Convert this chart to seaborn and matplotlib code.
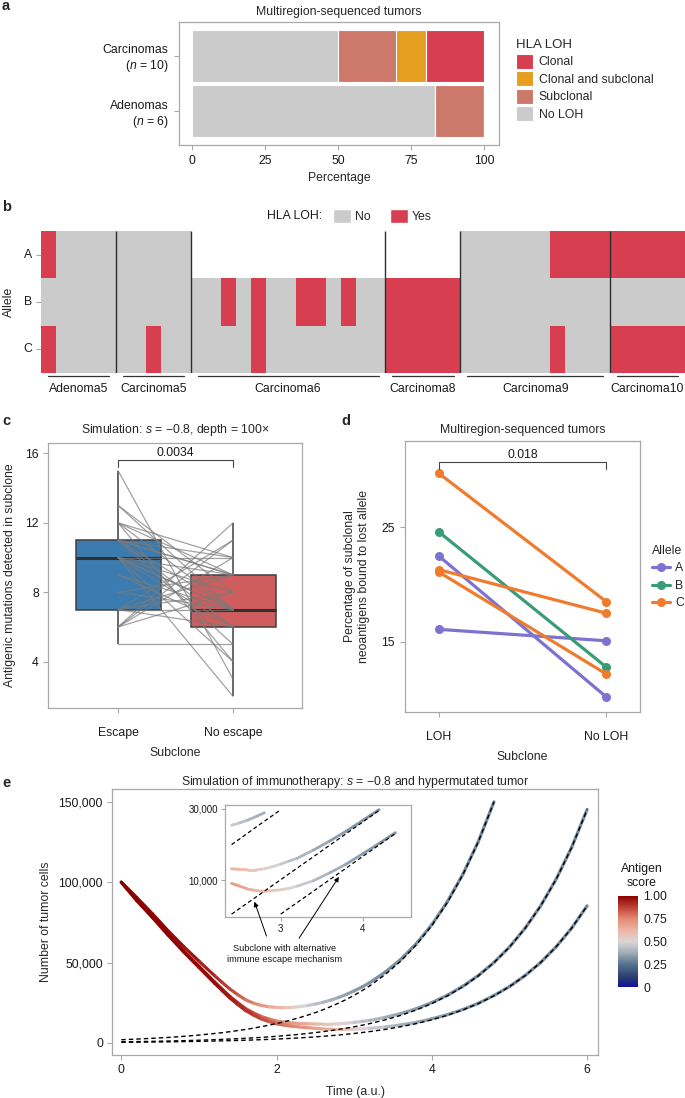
import numpy as np
import pandas as pd
import matplotlib
matplotlib.use("Agg")
import matplotlib.pyplot as plt
import matplotlib.ticker as mtick
from matplotlib.patches import Patch
from matplotlib.lines import Line2D
from matplotlib.collections import LineCollection
from matplotlib.colors import LinearSegmentedColormap, ListedColormap, Normalize
from matplotlib.cm import ScalarMappable
import seaborn as sns

sns.set_theme(style="white")
plt.rcParams['font.family'] = ['Liberation Sans', 'DejaVu Sans']
plt.rcParams['mathtext.fontset'] = 'custom'
plt.rcParams['mathtext.it'] = 'Liberation Sans:italic'
plt.rcParams['mathtext.rm'] = 'Liberation Sans'

FS = 8.8
FRAME = '#a8a8a8'
TXT = '#1a1a1a'

# ---------------- panel a data
tumor_types = ['Carcinomas\n($n$ = 10)', 'Adenomas\n($n$ = 6)']
loh_classes = ['No LOH', 'Subclonal', 'Clonal and subclonal', 'Clonal']
carcinoma_pct = [50, 20, 10, 20]
adenoma_pct = [83.3, 16.7, 0, 0]
loh_colors = {'No LOH': '#cbcbcb', 'Subclonal': '#cc796b',
              'Clonal and subclonal': '#e69e21', 'Clonal': '#d73f51'}

# ---------------- panel b data (1 = LOH, 0 = no LOH, '.' = not available)
group_names = ['Adenoma5', 'Carcinoma5', 'Carcinoma6', 'Carcinoma8', 'Carcinoma9', 'Carcinoma10']
allele_A = ['10000', '00000', '.............', '.....', '0000001111', '11111']
allele_B = ['00000', '00000', '0010100110100', '11111', '0000000000', '00000']
allele_C = ['10000', '00100', '0000100000000', '11111', '0000001000', '11111']

# ---------------- panel c data (paired subclones)
escape = [15, 13, 13, 12, 12, 12, 12, 11, 11, 11, 11, 11, 11, 10, 10, 10, 10, 10,
          10, 10, 10, 9, 9, 8, 8, 7, 7, 7, 7, 7, 6, 6, 6, 6, 5]
no_escape = [3, 7, 8, 10, 9, 7, 4, 10, 9, 9, 7, 6, 5, 10, 9, 8, 7, 7,
             6, 4, 2, 7, 6, 7, 9, 11, 8, 7, 6, 9, 12, 11, 8, 10, 5]
subclone_colors = ['#3b7bb0', '#d05d5d']

# ---------------- panel d data
pair_allele = ['C', 'B', 'A', 'C', 'C', 'A']
pct_loh = [29.7, 24.6, 22.5, 21.3, 21.1, 16.1]
pct_no_loh = [18.5, 12.8, 10.2, 17.5, 12.2, 15.1]
allele_colors = {'A': '#7b73cf', 'B': '#3a9c77', 'C': '#ef7b2e'}

# ---------------- panel e data (tumor cells in thousands)
time_points = [0.0, 0.2, 0.4, 0.6, 0.8, 1.0, 1.2, 1.3, 1.4, 1.5, 1.6, 1.7, 1.8, 1.9, 2.0,
               2.1, 2.2, 2.3, 2.4, 2.5, 2.6, 2.7, 2.8, 2.9, 3.0, 3.1, 3.2, 3.4, 3.6, 3.8,
               4.0, 4.2, 4.4, 4.6, 4.8, 5.0, 5.2, 5.4, 5.6, 5.8, 6.0]
top_total = [100.0, 90.4, 80.4, 69.9, 60.1, 50.9, 41.9, 37.6, 33.5, 30.0, 26.9, 24.8, 23.4,
             22.5, 22.1, 21.9, 22.1, 22.6, 23.3, 24.2, 25.3, 26.7, 28.3, 30.2, 32.4, 34.8,
             37.5, 44.1, 52.0, 61.8, 73.6, 87.9, 105.0, 125.5, 150.0]
top_escape = [2.0, 2.4, 2.9, 3.4, 4.1, 4.9, 5.9, 6.4, 7.0, 7.7, 8.4, 9.2, 10.1, 11.0, 12.1,
              13.2, 14.5, 15.8, 17.3, 18.9, 20.7, 22.7, 24.8, 27.1, 29.7, 32.5, 35.5, 42.6,
              50.9, 61.0, 73.0, 87.4, 104.7, 125.3, 150.0]
top_score = [1.00, 1.00, 0.99, 0.98, 0.97, 0.95, 0.92, 0.90, 0.87, 0.84, 0.80, 0.76, 0.72,
             0.68, 0.64, 0.60, 0.55, 0.51, 0.47, 0.44, 0.41, 0.39, 0.37, 0.35, 0.34, 0.33,
             0.32, 0.31, 0.30, 0.30, 0.30, 0.30, 0.30, 0.30, 0.30]
mid_total = [100.0, 88.8, 78.5, 67.7, 57.4, 47.7, 38.0, 33.4, 28.9, 25.0, 21.4, 18.7, 16.5,
             14.9, 13.6, 12.9, 12.4, 12.1, 11.9, 11.8, 11.7, 11.7, 11.9, 12.3, 12.8, 13.4,
             14.0, 15.9, 18.3, 21.3, 25.1, 29.7, 35.3, 42.0, 50.1, 59.7, 71.3, 85.2, 101.8,
             121.6, 145.3]
mid_escape = [0.70, 0.83, 0.99, 1.19, 1.42, 1.70, 2.03, 2.22, 2.42, 2.65, 2.89, 3.16, 3.46,
              3.78, 4.13, 4.52, 4.94, 5.40, 5.90, 6.45, 7.05, 7.70, 8.42, 9.21, 10.06, 11.00,
              12.02, 14.36, 17.16, 20.50, 24.50, 29.27, 34.97, 41.79, 49.92, 59.65, 71.27,
              85.16, 101.75, 121.57, 145.26]
mid_score = [1.00, 1.00, 1.00, 0.99, 0.99, 0.98, 0.96, 0.95, 0.93, 0.91, 0.88, 0.86, 0.83,
             0.80, 0.77, 0.74, 0.71, 0.68, 0.65, 0.62, 0.59, 0.56, 0.53, 0.50, 0.47, 0.44,
             0.42, 0.38, 0.35, 0.33, 0.32, 0.31, 0.30, 0.30, 0.30, 0.30, 0.30, 0.30, 0.30,
             0.30, 0.30]
bot_total = [100.0, 88.5, 78.1, 67.2, 56.8, 47.0, 37.2, 32.5, 27.9, 23.9, 20.2, 17.4, 15.0,
             13.3, 11.9, 11.1, 10.4, 9.9, 9.5, 9.1, 8.7, 8.5, 8.4, 8.5, 8.6, 8.8, 9.1, 9.9,
             11.2, 12.8, 15.0, 17.6, 20.8, 24.7, 29.5, 35.1, 41.9, 50.0, 59.8, 71.4, 85.3]
bot_escape = [0.41, 0.49, 0.58, 0.70, 0.83, 1.00, 1.19, 1.30, 1.42, 1.56, 1.70, 1.86, 2.03,
              2.22, 2.43, 2.65, 2.90, 3.17, 3.46, 3.79, 4.14, 4.53, 4.94, 5.41, 5.91, 6.46,
              7.06, 8.43, 10.08, 12.04, 14.39, 17.19, 20.54, 24.54, 29.32, 35.03, 41.86,
              50.01, 59.76, 71.40, 85.31]
bot_score = [1.00, 1.00, 1.00, 0.99, 0.99, 0.98, 0.97, 0.96, 0.95, 0.93, 0.91, 0.89, 0.86,
             0.84, 0.81, 0.79, 0.76, 0.74, 0.71, 0.69, 0.66, 0.63, 0.60, 0.57, 0.54, 0.51,
             0.48, 0.43, 0.39, 0.36, 0.34, 0.33, 0.32, 0.31, 0.31, 0.30, 0.30, 0.30, 0.30,
             0.30, 0.30]

antigen_cmap = LinearSegmentedColormap.from_list('antigen', [
    (0.0, '#1010a0'), (0.1, '#263c6e'), (0.25, '#56728c'), (0.38, '#a3b0bb'),
    (0.5, '#dcd6d6'), (0.62, '#eeb6a6'), (0.75, '#e38a72'), (0.88, '#bd3f33'),
    (1.0, '#8b0000')])

W, H = 685, 1098
fig = plt.figure(figsize=(W / 100, H / 100), dpi=100)


def box(l, t, r, b):
    return [l / W, 1 - b / H, (r - l) / W, (b - t) / H]


def style(ax, pad=3):
    for s in ax.spines.values():
        s.set_visible(True)
        s.set_color(FRAME)
        s.set_linewidth(0.9)
    ax.tick_params(colors=FRAME, labelcolor=TXT, labelsize=FS, length=3.5, width=0.8,
                   direction='out', left=True, bottom=True, pad=pad)


def panel_letter(x, y, s):
    fig.text(x / W, 1 - y / H, s, fontsize=10.5, fontweight='bold', va='center', ha='left')


# ================= a
axa = fig.add_axes(box(179, 22, 499, 145))
left = np.zeros(2)
for i, cls in enumerate(loh_classes):
    vals = np.array([carcinoma_pct[i], adenoma_pct[i]])
    axa.barh([0, 1], vals, left=left, height=0.93, color=loh_colors[cls],
             edgecolor='white', linewidth=0.8)
    left += vals
axa.set_xlim(-4.45, 105.1)
axa.set_ylim(1.6, -0.6)
axa.set_yticks([0, 1])
axa.set_yticklabels(tumor_types, ha='right')
axa.set_xticks([0, 25, 50, 75, 100])
style(axa, pad=4)
axa.set_xlabel('Percentage', fontsize=FS, labelpad=3)
axa.set_title('Multiregion-sequenced tumors', fontsize=FS, pad=5)
legend_order = ['Clonal', 'Clonal and subclonal', 'Subclonal', 'No LOH']
handles = [Patch(facecolor=loh_colors[c], edgecolor='white', linewidth=0.8) for c in legend_order]
axa.legend(handles, legend_order, title='HLA LOH', loc='upper left',
           bbox_to_anchor=(516 / W, 1 - 39 / H), bbox_transform=fig.transFigure,
           frameon=False, handlelength=1.4, handleheight=1.5, labelspacing=0.22,
           handletextpad=0.45, borderpad=0, borderaxespad=0, alignment='left',
           fontsize=FS, title_fontsize=9.5)
panel_letter(2, 6, 'a')

# ================= b
def to_row(groups):
    return [np.nan if ch == '.' else float(ch) for ch in ''.join(groups)]


loh_matrix = np.array([to_row(allele_A), to_row(allele_B), to_row(allele_C)])
group_sizes = [len(g) for g in allele_A]
axb = fig.add_axes(box(41, 231, 685, 373))
sns.heatmap(loh_matrix, ax=axb, cmap=ListedColormap([loh_colors['No LOH'], loh_colors['Clonal']]),
            vmin=0, vmax=1, cbar=False, xticklabels=False, yticklabels=['A', 'B', 'C'])
bounds = np.cumsum(group_sizes)
axb.vlines(bounds[:-1], 0, 3, color='#2e2e2e', linewidth=1.0)
start = 0
for name, n in zip(group_names, group_sizes):
    axb.plot([start + 0.45, start + n - 0.45], [3.065, 3.065], color='#333333', lw=0.9,
             clip_on=False)
    axb.text(start + n / 2, 3.33, name, ha='center', va='center', fontsize=FS, color=TXT,
             clip_on=False)
    start += n
for s in axb.spines.values():
    s.set_visible(False)
axb.tick_params(axis='y', left=True, length=3.5, width=0.8, color=FRAME, labelcolor=TXT,
                labelsize=FS, rotation=0, pad=3)
axb.set_ylabel('Allele', fontsize=FS, labelpad=6)
fig.text(322 / W, 1 - 216 / H, 'HLA LOH:', ha='right', va='center', fontsize=FS, color=TXT)
axb.legend([Patch(facecolor=loh_colors['No LOH']), Patch(facecolor=loh_colors['Clonal'])],
           ['No', 'Yes'], ncol=2, loc='center left', bbox_to_anchor=(333 / W, 1 - 216 / H),
           bbox_transform=fig.transFigure, frameon=False, handlelength=1.45, handleheight=1.45,
           handletextpad=0.35, columnspacing=1.6, borderpad=0, borderaxespad=0, fontsize=FS)
panel_letter(2, 207, 'b')

# ================= c
df_c = pd.DataFrame({'Subclone': ['Escape'] * len(escape) + ['No escape'] * len(no_escape),
                     'value': escape + no_escape})
axc = fig.add_axes(box(48, 443, 302, 708))
sns.boxplot(data=df_c, x='Subclone', y='value', hue='Subclone', palette=subclone_colors,
            width=0.74, showfliers=False, showcaps=False, linecolor='#3f3f3f', linewidth=1.1,
            saturation=1, medianprops=dict(linewidth=2.2, color='#2f2f2f'), legend=False, ax=axc)
for e_val, n_val in zip(escape, no_escape):
    axc.plot([0, 1], [e_val, n_val], color='#7a7a7a', lw=0.9, alpha=0.7, zorder=5)
axc.plot([0, 0, 1, 1], [15.24, 15.62, 15.62, 15.24], color='#444444', lw=0.8, zorder=6)
axc.text(0.5, 15.68, '0.0034', ha='center', va='bottom', fontsize=FS, color=TXT)
axc.set_xlim(-0.61, 1.6)
axc.set_ylim(1.33, 16.6)
axc.set_yticks([4, 8, 12, 16])
style(axc, pad=3)
axc.tick_params(axis='x', pad=10)
axc.set_xlabel('Subclone', fontsize=FS, labelpad=6)
axc.set_ylabel('Antigenic mutations detected in subclone', fontsize=FS, labelpad=7)
axc.set_title('Simulation: $s$ = \u22120.8, depth = 100\u00d7', fontsize=FS, pad=7)
panel_letter(2, 421, 'c')

# ================= d
df_d = pd.DataFrame({
    'pair': list(range(len(pct_loh))) * 2,
    'Allele': pair_allele * 2,
    'pos': [0] * len(pct_loh) + [1] * len(pct_no_loh),
    'pct': pct_loh + pct_no_loh,
})
axd = fig.add_axes(box(405, 441, 640, 712))
sns.lineplot(data=df_d, x='pos', y='pct', hue='Allele', hue_order=['A', 'B', 'C'],
             units='pair', estimator=None, palette=allele_colors, marker='o', markersize=6.5,
             markeredgewidth=0, linewidth=2.3, legend=False, ax=axd)
axd.plot([0, 0, 1, 1], [30.1, 30.7, 30.7, 30.1], color='#444444', lw=0.8)
axd.text(0.5, 30.8, '0.018', ha='center', va='bottom', fontsize=FS, color=TXT)
axd.set_xlim(-0.2, 1.2)
axd.set_ylim(8.9, 32.5)
axd.set_xticks([0, 1])
axd.set_xticklabels(['LOH', 'No LOH'])
axd.set_yticks([15, 25])
style(axd, pad=4)
axd.tick_params(axis='x', pad=10)
axd.set_xlabel('Subclone', fontsize=FS, labelpad=6)
axd.set_ylabel('Percentage of subclonal\nneoantigens bound to lost allele', fontsize=FS,
               labelpad=8)
axd.set_title('Multiregion-sequenced tumors', fontsize=FS, pad=6)
d_handles = [Line2D([0], [0], color=allele_colors[a], lw=2.3, marker='o', ms=6.5, mew=0)
             for a in ['A', 'B', 'C']]
axd.legend(d_handles, ['A', 'B', 'C'], title='Allele', loc='upper left',
           bbox_to_anchor=(652 / W, 1 - 545 / H), bbox_transform=fig.transFigure,
           frameon=False, handlelength=1.5, labelspacing=0.45, handletextpad=0.4,
           borderpad=0, borderaxespad=0, alignment='left', fontsize=FS, title_fontsize=FS)
panel_letter(341, 421, 'd')

# ================= e
def grad_line(ax, t, y, score, lw):
    pts = np.column_stack([t, y])
    segs = np.stack([pts[:-1], pts[1:]], axis=1)
    lc = LineCollection(segs, cmap=antigen_cmap, norm=Normalize(0, 1), linewidths=lw,
                        capstyle='round', joinstyle='round', zorder=3)
    lc.set_array((np.asarray(score[:-1]) + np.asarray(score[1:])) / 2)
    ax.add_collection(lc)


curves = [(top_total, top_escape, top_score), (mid_total, mid_escape, mid_score),
          (bot_total, bot_escape, bot_score)]

axe = fig.add_axes(box(112, 789, 598, 1055))
for tot, esc, sc in curves:
    t = np.array(time_points[:len(tot)])
    grad_line(axe, t, np.array(tot) * 1000, sc, 2.3)
    axe.plot(t, np.array(esc) * 1000, color='black', lw=1.0, ls=(0, (3.2, 2.2)), zorder=4)
axe.set_xlim(-0.12, 6.14)
axe.set_ylim(-7500, 158000)
axe.set_xticks([0, 2, 4, 6])
axe.set_yticks([0, 50000, 100000, 150000])
axe.yaxis.set_major_formatter(mtick.FuncFormatter(lambda v, p: f'{v:,.0f}'))
style(axe, pad=3)
axe.set_xlabel('Time (a.u.)', fontsize=FS, labelpad=7)
axe.set_ylabel('Number of tumor cells', fontsize=FS, labelpad=5)
axe.set_title('Simulation of immunotherapy: $s$ = \u22120.8 and hypermutated tumor',
              fontsize=FS, pad=3)
axe.text(2.1, 55500, 'Subclone with alternative\nimmune escape mechanism', ha='center',
         va='center', fontsize=6.7, color=TXT, linespacing=1.25)
panel_letter(2, 783, 'e')

# inset (log scale zoom on the escape phase)
axi = fig.add_axes(box(225, 805, 411, 917))
for tot, esc, sc in curves:
    t = np.array(time_points[:len(tot)])
    tot = np.array(tot)
    esc = np.array(esc)
    keep = (t >= 2.4) & (t <= 4.5) & (tot >= 5.8) & (tot <= 30)
    grad_line(axi, t[keep], tot[keep] * 1000, np.array(sc)[keep], 2.0)
    keep_e = (t >= 2.4) & (t <= 4.5) & (esc >= 5.8) & (esc <= 30)
    axi.plot(t[keep_e], esc[keep_e] * 1000, color='black', lw=0.9, ls=(0, (3.2, 2.2)), zorder=4)
axi.set_yscale('log')
axi.set_xlim(2.32, 4.59)
axi.set_ylim(5650, 31900)
axi.set_xticks([3, 4])
axi.set_yticks([10000, 30000])
axi.yaxis.set_minor_locator(mtick.NullLocator())
axi.yaxis.set_major_formatter(mtick.FuncFormatter(lambda v, p: f'{v:,.0f}'))
style(axi, pad=2)
axi.tick_params(labelsize=7, length=3)
arrow = dict(arrowstyle='-|>', color='black', lw=0.7, mutation_scale=7, shrinkA=0, shrinkB=0)
axi.annotate('', xy=(2.68, 7150), xycoords='data', xytext=(1.87, 66500),
             textcoords=axe.transData, arrowprops=arrow)
axi.annotate('', xy=(3.71, 10500), xycoords='data', xytext=(2.29, 65200),
             textcoords=axe.transData, arrowprops=arrow)

# colour bar
cax = fig.add_axes(box(618, 896, 638, 987))
cb = fig.colorbar(ScalarMappable(norm=Normalize(0, 1), cmap=antigen_cmap), cax=cax)
cb.set_ticks([0, 0.25, 0.5, 0.75, 1.0])
cb.set_ticklabels(['0', '0.25', '0.50', '0.75', '1.00'])
cb.outline.set_visible(False)
cax.tick_params(which='both', direction='in', color='white', length=4, width=0.8,
                left=True, right=True, labelleft=False, labelright=True, labelsize=FS,
                labelcolor=TXT, pad=4)
cax.minorticks_off()
fig.text(642 / W, 1 - 876 / H, 'Antigen\nscore', ha='center', va='center', fontsize=FS,
         color=TXT, linespacing=1.25)

fig.savefig('out.png', dpi=100)
